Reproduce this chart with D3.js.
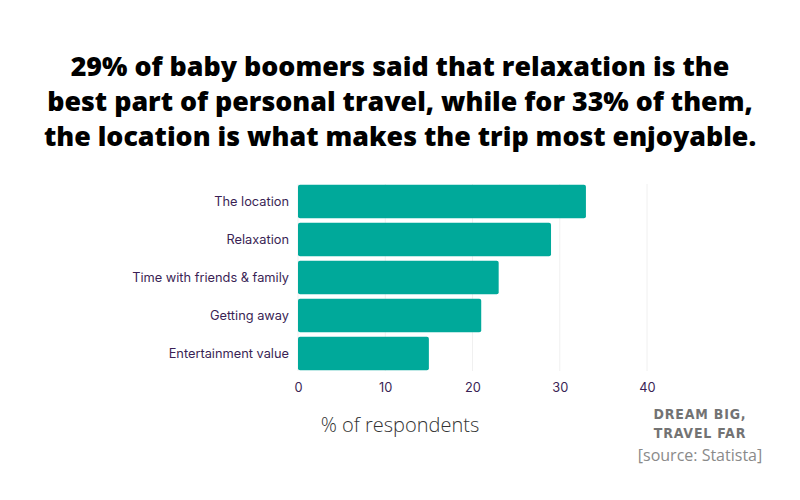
<!DOCTYPE html>
<html>
<head>
<meta charset="utf-8">
<script src="https://d3js.org/d3.v7.min.js"></script>
<style>
    body { margin: 0; background: #fff; }
    .tick text { font-family: Inter, sans-serif; font-size: 12.8px; fill: #3a1f55; }
</style>
</head>
<body>
<script>
    // data
    var categories = ["The location", "Relaxation", "Time with friends & family", "Getting away", "Entertainment value"];
    var values = [33, 29, 23, 21, 15];
    var xTicks = [0, 10, 20, 30, 40];
    var titleLines = [
        "29% of baby boomers said that relaxation is the",
        "best part of personal travel, while for 33% of them,",
        "the location is what makes the trip most enjoyable."
    ];

    var W = 800, H = 500;
    var margin = { top: 184, left: 298, right: 153, bottom: 129 };
    var width = W - margin.left - margin.right,
        height = H - margin.top - margin.bottom;

    var svg = d3.select("body").append("svg")
        .attr("width", W)
        .attr("height", H);

    // title
    svg.append("text")
        .attr("x", W / 2)
        .attr("y", 76)
        .attr("text-anchor", "middle")
        .style("font-family", "'Open Sans', sans-serif")
        .style("font-weight", 800)
        .style("font-size", "26.8px")
        .style("fill", "#000")
        .selectAll("tspan")
        .data(titleLines)
        .enter().append("tspan")
        .attr("x", W / 2)
        .attr("dy", function (d, i) { return i ? 35 : 0; })
        .text(function (d) { return d; });

    var g = svg.append("g")
        .attr("transform", "translate(" + margin.left + "," + margin.top + ")");

    var x = d3.scaleLinear().domain([0, 40]).range([0, width]);
    var y = d3.scaleBand().domain(categories).range([0, height]).paddingInner(0.12).paddingOuter(0.02);

    // grid
    g.selectAll(".grid")
        .data(xTicks)
        .enter().append("line")
        .attr("x1", function (d) { return x(d); })
        .attr("x2", function (d) { return x(d); })
        .attr("y1", 0)
        .attr("y2", height)
        .style("stroke", "#f0f0f0")
        .style("stroke-width", 1);

    g.selectAll(".bar")
        .data(values)
        .enter().append("rect")
        .attr("x", 0)
        .attr("y", function (d, i) { return y(categories[i]); })
        .attr("width", function (d) { return x(d); })
        .attr("height", y.bandwidth())
        .attr("rx", 2)
        .style("fill", "#00a99a");

    // y axis
    var yAxis = g.append("g")
        .attr("transform", "translate(-8,0)")
        .call(d3.axisLeft(y).tickSize(0).tickPadding(1));
    yAxis.select(".domain").remove();

    // x axis
    var xAxis = g.append("g")
        .attr("transform", "translate(0," + height + ")")
        .call(d3.axisBottom(x).tickValues(xTicks).tickSize(0).tickPadding(12));
    xAxis.select(".domain").remove();

    svg.append("text")
        .attr("x", 400)
        .attr("y", 432)
        .attr("text-anchor", "middle")
        .style("font-family", "'Open Sans', sans-serif")
        .style("font-weight", 300)
        .style("font-size", "20px")
        .style("fill", "#333")
        .text("% of respondents");

    // brand
    svg.append("text")
        .attr("x", 700)
        .attr("y", 419)
        .attr("text-anchor", "middle")
        .style("font-family", "'DejaVu Sans Condensed', sans-serif")
        .style("font-weight", "bold")
        .style("font-size", "14px")
        .style("letter-spacing", "0.8px")
        .style("fill", "#737373")
        .selectAll("tspan")
        .data(["DREAM BIG,", "TRAVEL FAR"])
        .enter().append("tspan")
        .attr("x", 700)
        .attr("dy", function (d, i) { return i ? 19 : 0; })
        .text(function (d) { return d; });

    svg.append("text")
        .attr("x", 700)
        .attr("y", 461)
        .attr("text-anchor", "middle")
        .style("font-family", "'Open Sans', sans-serif")
        .style("font-size", "16px")
        .style("fill", "#8a8a8a")
        .text("[source: Statista]");
</script>
</body>
</html>
